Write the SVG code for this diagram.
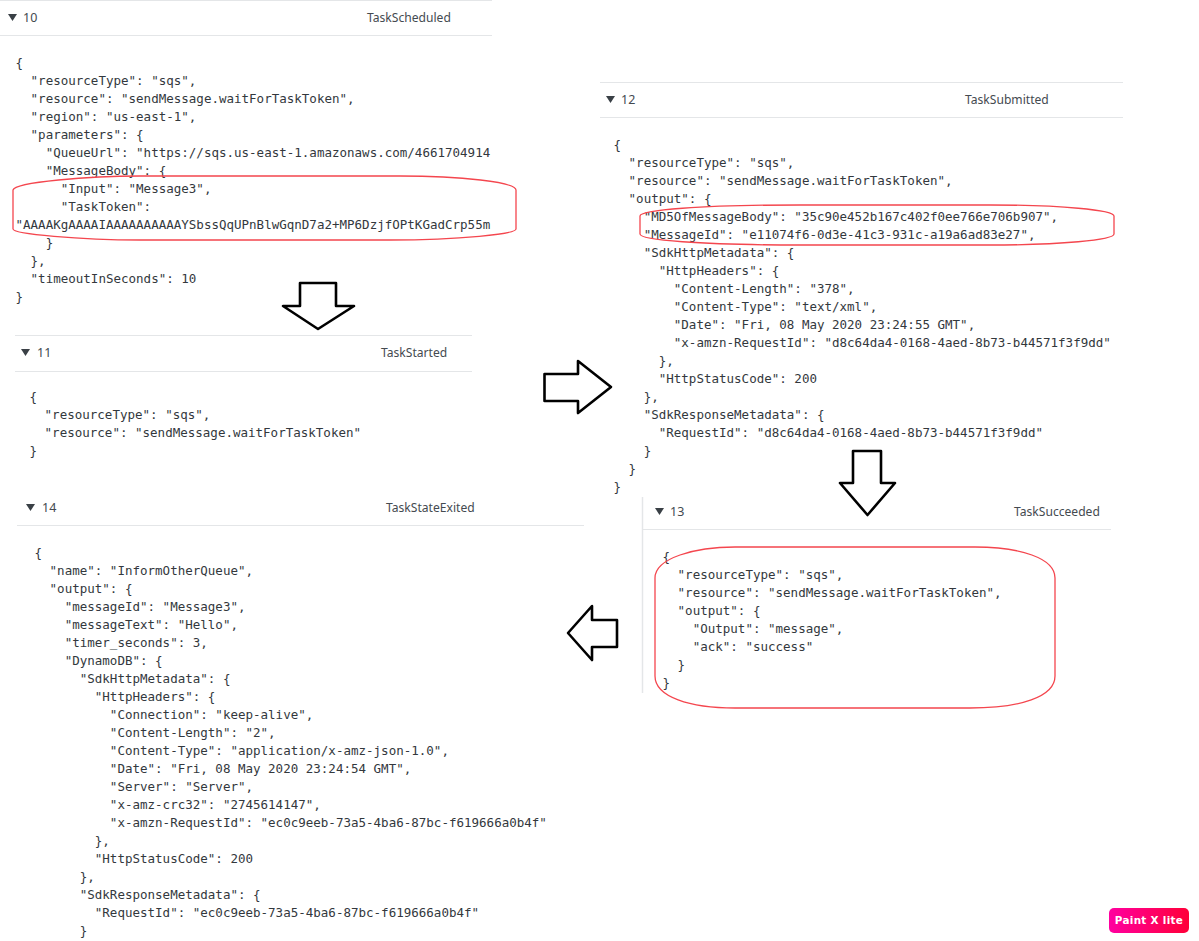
<svg xmlns="http://www.w3.org/2000/svg" width="1199" height="941" viewBox="0 0 1199 941">
<style>
text{font-family:"DejaVu Sans Mono","Liberation Mono",monospace;font-size:12.52px;fill:#33383d;white-space:pre}
.h{font-family:"Noto Sans","Liberation Sans",sans-serif;font-size:12.1px;fill:#444a50}
.n{font-family:"Noto Sans","Liberation Sans",sans-serif;font-size:12.5px;fill:#444a50}
.r{fill:none;stroke:#f4464e;stroke-width:1.3}
.l{stroke:#e4e6e8;stroke-width:1;fill:none}
.a{fill:#fff;stroke:#000;stroke-width:2.6;stroke-linejoin:round}
.t{fill:#3a4046}
.w{font-family:"DejaVu Sans","Liberation Sans",sans-serif;font-size:10.4px;font-weight:700;fill:#fff;letter-spacing:.3px}
</style>
<defs><linearGradient id="g"><stop offset="0" stop-color="#ff00a0"/><stop offset="1" stop-color="#ff0038"/></linearGradient></defs>
<rect width="1199" height="941" fill="#fff"/>
<g id="node-10">
<path class="l" d="M0 .5H492M0 35.500H492"/>
<path class="t" d="M8 14h9l-4.500 7z"/>
<text class="n" x="23" y="22">10</text>
<text class="h" x="367" y="22">TaskScheduled</text>
<text x="15.500" y="67">{</text>
<text x="15.500" y="85">  "resourceType": "sqs",</text>
<text x="15.500" y="103">  "resource": "sendMessage.waitForTaskToken",</text>
<text x="15.500" y="121">  "region": "us-east-1",</text>
<text x="15.500" y="139">  "parameters": {</text>
<text x="15.500" y="157">    "QueueUrl": "https://sqs.us-east-1.amazonaws.com/4661704914</text>
<text x="15.500" y="175">    "MessageBody": {</text>
<text x="15.500" y="193">      "Input": "Message3",</text>
<text x="15.500" y="211">      "TaskToken":</text>
<text x="15.500" y="229">"AAAAKgAAAAIAAAAAAAAAAYSbssQqUPnBlwGqnD7a2+MP6DzjfOPtKGadCrp55m</text>
<text x="15.500" y="247">    }</text>
<text x="15.500" y="265">  },</text>
<text x="15.500" y="283">  "timeoutInSeconds": 10</text>
<text x="15.500" y="301">}</text>
<path class="r" d="M13 190C15 182 90 176 140 176H400C460 176 516 182 516 190V229C516 234 460 240 390 240H140C80 240 13 234 13 229Z"/>
</g>
<g id="node-11">
<path class="l" d="M15 335.500H472M15 371.500H472"/>
<path class="t" d="M21 349h9l-4.500 7z"/>
<text class="n" x="37" y="357">11</text>
<text class="h" x="381" y="357">TaskStarted</text>
<text x="29.500" y="401">{</text>
<text x="29.500" y="419">  "resourceType": "sqs",</text>
<text x="29.500" y="437">  "resource": "sendMessage.waitForTaskToken"</text>
<text x="29.500" y="455">}</text>
</g>
<g id="node-12">
<path class="l" d="M600 82.500H1123M600 117.500H1123"/>
<path class="t" d="M606 96h9l-4.500 7z"/>
<text class="n" x="621" y="104">12</text>
<text class="h" x="965" y="104">TaskSubmitted</text>
<text x="613.500" y="149">{</text>
<text x="613.500" y="167">  "resourceType": "sqs",</text>
<text x="613.500" y="185">  "resource": "sendMessage.waitForTaskToken",</text>
<text x="613.500" y="203">  "output": {</text>
<text x="613.500" y="221">    "MD5OfMessageBody": "35c90e452b167c402f0ee766e706b907",</text>
<text x="613.500" y="239">    "MessageId": "e11074f6-0d3e-41c3-931c-a19a6ad83e27",</text>
<text x="613.500" y="257">    "SdkHttpMetadata": {</text>
<text x="613.500" y="275">      "HttpHeaders": {</text>
<text x="613.500" y="293">        "Content-Length": "378",</text>
<text x="613.500" y="311">        "Content-Type": "text/xml",</text>
<text x="613.500" y="329">        "Date": "Fri, 08 May 2020 23:24:55 GMT",</text>
<text x="613.500" y="347">        "x-amzn-RequestId": "d8c64da4-0168-4aed-8b73-b44571f3f9dd"</text>
<text x="613.500" y="365">      },</text>
<text x="613.500" y="383">      "HttpStatusCode": 200</text>
<text x="613.500" y="401">    },</text>
<text x="613.500" y="419">    "SdkResponseMetadata": {</text>
<text x="613.500" y="437">      "RequestId": "d8c64da4-0168-4aed-8b73-b44571f3f9dd"</text>
<text x="613.500" y="455">    }</text>
<text x="613.500" y="473">  }</text>
<text x="613.500" y="491">}</text>
<path class="r" d="M640 216C640 210 700 205 800 205H990C1060 205 1114 210 1114 216V234C1114 240 1060 245 990 245H800C700 245 640 240 640 234Z"/>
</g>
<g id="node-13">
<path class="l" d="M642.500 497V693" style="stroke-width:1.5"/>
<path class="l" d="M643 529.500H1111"/>
<path class="t" d="M655 508h9l-4.500 7z"/>
<text class="n" x="670" y="516">13</text>
<text class="h" x="1014" y="516">TaskSucceeded</text>
<text x="662.500" y="560.500">{</text>
<text x="662.500" y="578.500">  "resourceType": "sqs",</text>
<text x="662.500" y="596.500">  "resource": "sendMessage.waitForTaskToken",</text>
<text x="662.500" y="614.500">  "output": {</text>
<text x="662.500" y="632.500">    "Output": "message",</text>
<text x="662.500" y="650.500">    "ack": "success"</text>
<text x="662.500" y="668.500">  }</text>
<text x="662.500" y="686.500">}</text>
<path class="r" d="M655 578C655 558 695 547 735 547H975C1020 547 1055 558 1055 578V676C1055 697 1020 708 970 708H735C690 708 655 697 655 676Z"/>
</g>
<g id="node-14">
<path class="l" d="M17 525.500H584"/>
<path class="t" d="M26 504h9l-4.500 7z"/>
<text class="n" x="42" y="512">14</text>
<text class="h" x="386" y="512">TaskStateExited</text>
<text x="34.500" y="556.500">{</text>
<text x="34.500" y="574.500">  "name": "InformOtherQueue",</text>
<text x="34.500" y="592.500">  "output": {</text>
<text x="34.500" y="610.500">    "messageId": "Message3",</text>
<text x="34.500" y="628.500">    "messageText": "Hello",</text>
<text x="34.500" y="646.500">    "timer_seconds": 3,</text>
<text x="34.500" y="664.500">    "DynamoDB": {</text>
<text x="34.500" y="682.500">      "SdkHttpMetadata": {</text>
<text x="34.500" y="700.500">        "HttpHeaders": {</text>
<text x="34.500" y="718.500">          "Connection": "keep-alive",</text>
<text x="34.500" y="736.500">          "Content-Length": "2",</text>
<text x="34.500" y="754.500">          "Content-Type": "application/x-amz-json-1.0",</text>
<text x="34.500" y="772.500">          "Date": "Fri, 08 May 2020 23:24:54 GMT",</text>
<text x="34.500" y="790.500">          "Server": "Server",</text>
<text x="34.500" y="808.500">          "x-amz-crc32": "2745614147",</text>
<text x="34.500" y="826.500">          "x-amzn-RequestId": "ec0c9eeb-73a5-4ba6-87bc-f619666a0b4f"</text>
<text x="34.500" y="844.500">        },</text>
<text x="34.500" y="862.500">        "HttpStatusCode": 200</text>
<text x="34.500" y="880.500">      },</text>
<text x="34.500" y="898.500">      "SdkResponseMetadata": {</text>
<text x="34.500" y="916.500">        "RequestId": "ec0c9eeb-73a5-4ba6-87bc-f619666a0b4f"</text>
<text x="34.500" y="934.500">      }</text>
</g>
<g id="connectors">
<path class="a" d="M300 283H336V306H354L318 329L283 306H300Z"/>
<path class="a" d="M544.500 374H578V361L611 387L578 413V401H544.500Z"/>
<path class="a" d="M853 451H881V483H895L867.500 515L840 483H853Z"/>
<path class="a" d="M617 620H592V606L568 633L592 660V647H617Z"/>
</g>
<g id="badge">
<rect x="1109" y="908" width="80" height="25" rx="5" fill="url(#g)"/>
<text class="w" x="1149" y="924" text-anchor="middle">Paint X lite</text>
</g>
</svg>
